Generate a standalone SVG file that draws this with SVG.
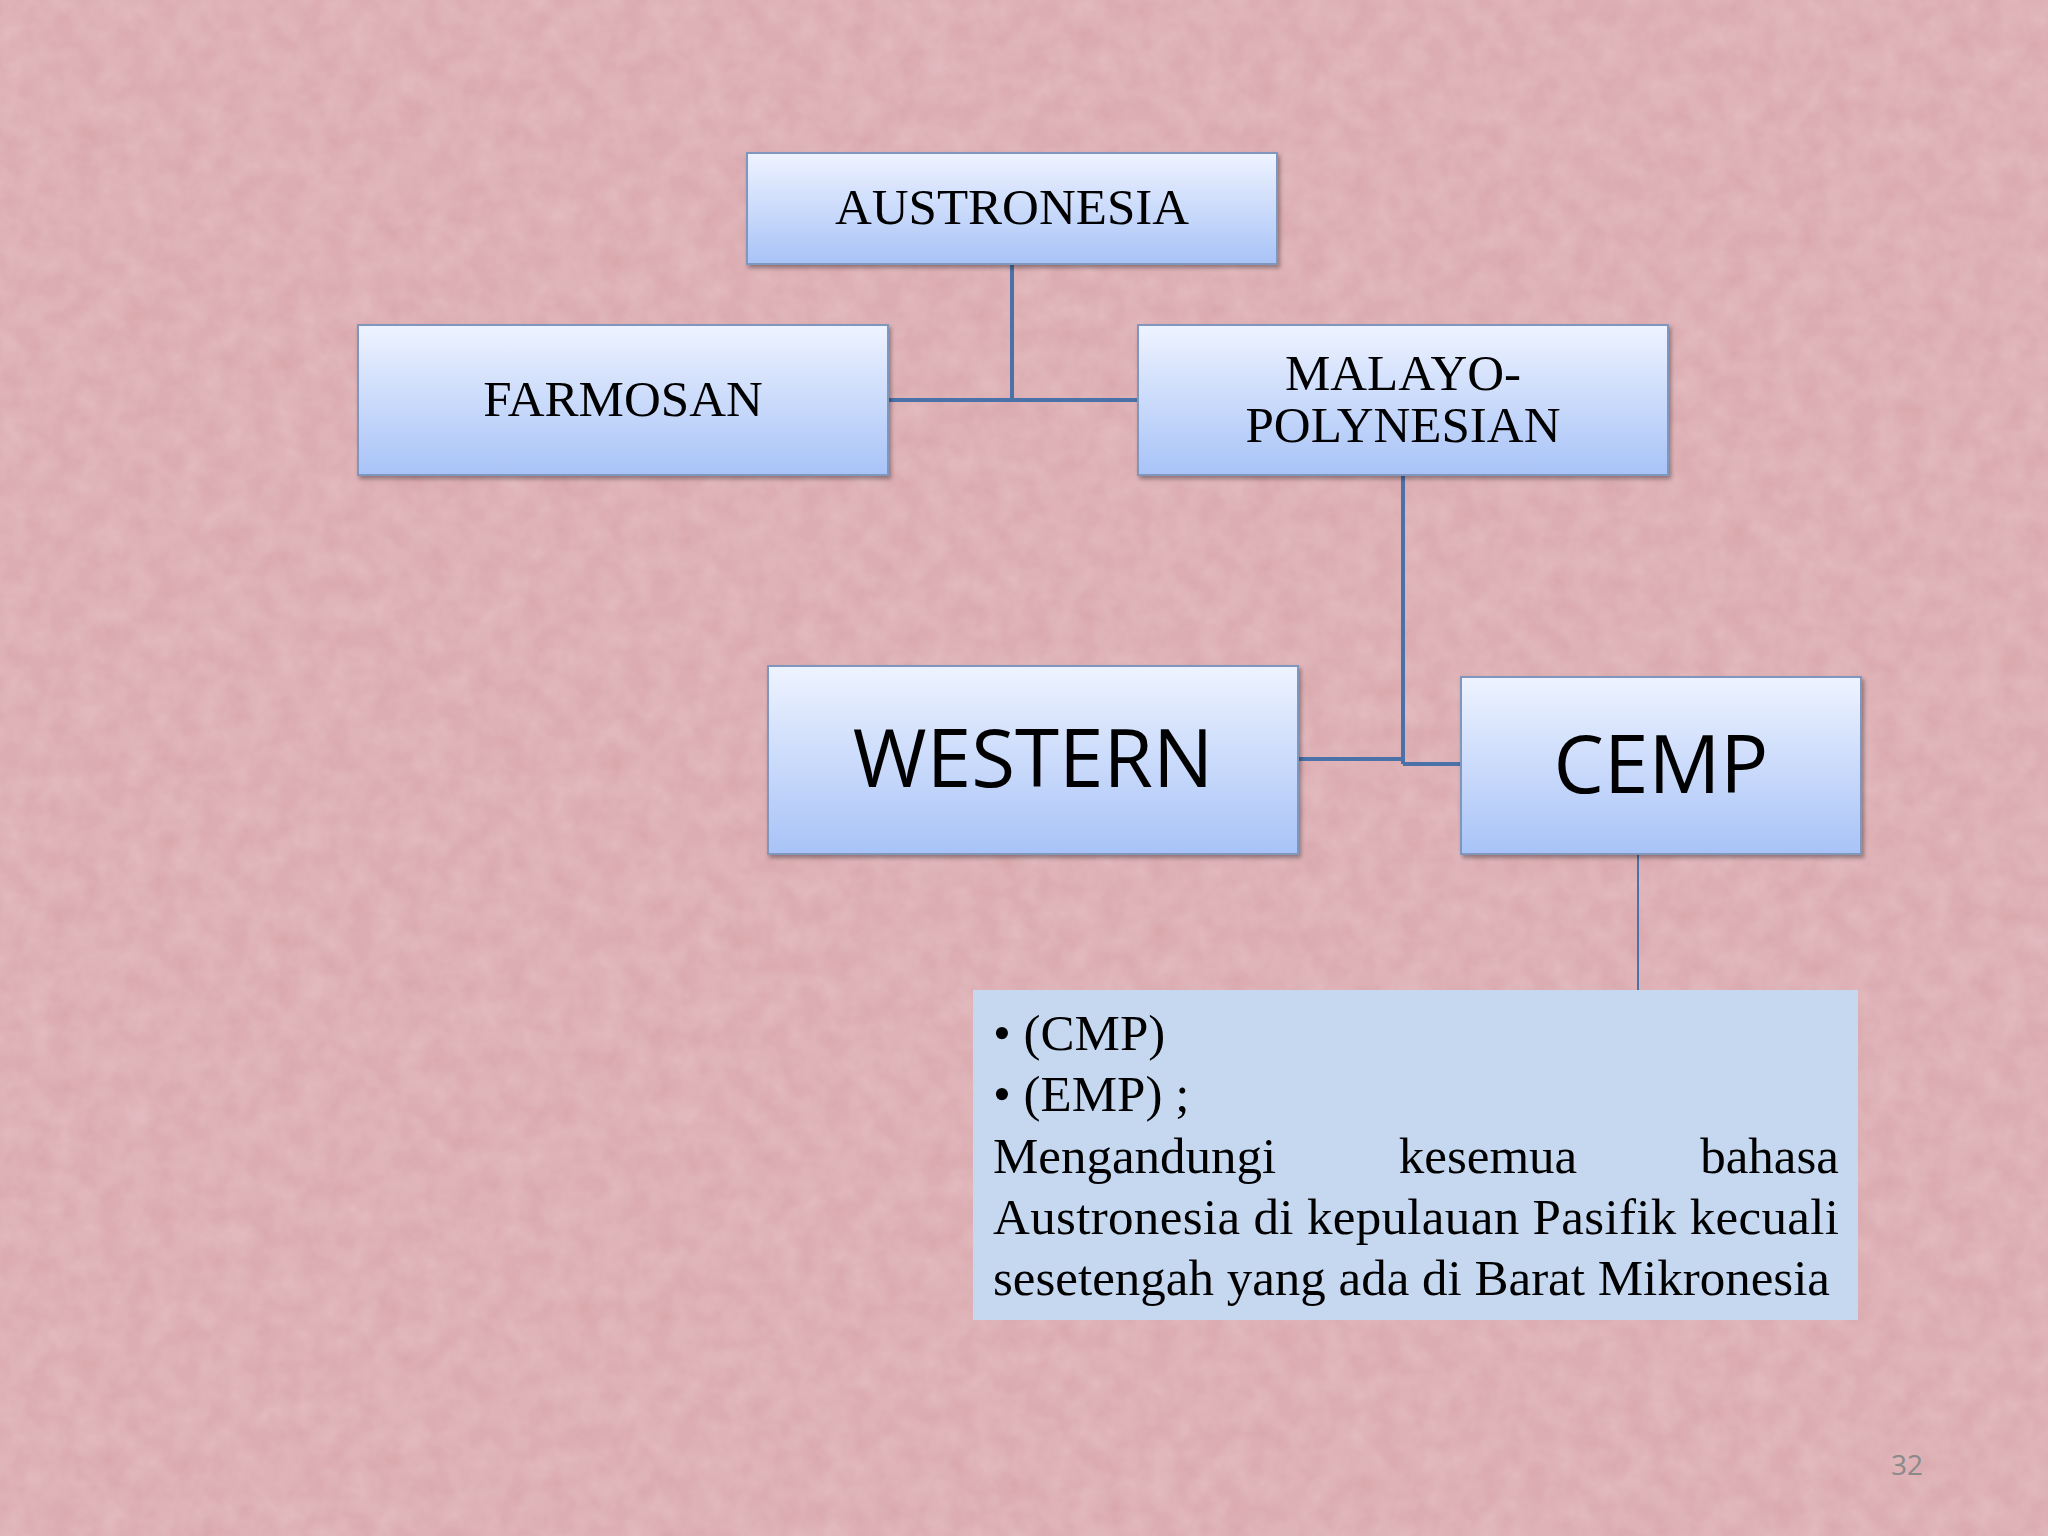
<svg xmlns="http://www.w3.org/2000/svg" width="2048" height="1536" viewBox="0 0 2048 1536">
<defs>
<linearGradient id="g" x1="0" y1="0" x2="0" y2="1"><stop offset="0" stop-color="#eef3ff"/><stop offset="1" stop-color="#a8c3f7"/></linearGradient>
<filter id="tex"><feTurbulence type="fractalNoise" baseFrequency="0.04" numOctaves="3" seed="3"/><feColorMatrix values="0 0 0 0 0.95  0 0 0 0 0.8  0 0 0 0 0.82  0 0 0 0.35 0"/><feComposite in2="SourceGraphic" operator="in"/></filter>
<filter id="sh"><feDropShadow dx="2" dy="3" stdDeviation="2" flood-opacity="0.35"/></filter>
</defs>
<style>
.box{fill:url(#g);stroke:#8196bd;stroke-width:2;filter:url(#sh)}
.t{font-family:"Liberation Serif",serif;font-size:51px;fill:#000;text-anchor:middle}
.b{font-family:"Open Sans","DejaVu Sans",sans-serif;font-size:80px;fill:#000;text-anchor:middle}
.c{fill:none;stroke:#4a72a8;stroke-width:4}
.p{font-family:"Liberation Serif",serif;font-size:51px;fill:#000}
</style>
<rect width="2048" height="1536" fill="#d8a6ab"/>
<rect width="2048" height="1536" fill="#d8a6ab" filter="url(#tex)"/>
<g id="connectors">
<path class="c" d="M1012 264V400M888 400H1138M1403 475V764M1298 759H1403M1403 764H1461"/>
<path d="M1638 854V1006" stroke="#4a72a8" stroke-width="2" fill="none"/>
</g>
<g id="austronesia"><rect class="box" x="747" y="153" width="530" height="111"/><text class="t" x="1012" y="224">AUSTRONESIA</text></g>
<g id="farmosan"><rect class="box" x="358" y="325" width="530" height="150"/><text class="t" x="623" y="416">FARMOSAN</text></g>
<g id="malayo"><rect class="box" x="1138" y="325" width="530" height="150"/><text class="t" x="1403" y="390">MALAYO-</text><text class="t" x="1403" y="442">POLYNESIAN</text></g>
<g id="western"><rect class="box" x="768" y="666" width="530" height="188"/><text class="b" x="1033" y="787">WESTERN</text></g>
<g id="cemp"><rect class="box" x="1461" y="677" width="400" height="177"/><text class="b" x="1661" y="793">CEMP</text></g>
<g id="note">
<rect x="973" y="990" width="885" height="330" fill="#c6d8f0"/>
<text class="p" x="993" y="1050">• (CMP)</text>
<text class="p" x="993" y="1111">• (EMP) ;</text>
<text class="p" x="993" y="1173">Mengandungi</text>
<text class="p" x="1488" y="1173" text-anchor="middle">kesemua</text>
<text class="p" x="1839" y="1173" text-anchor="end">bahasa</text>
<text class="p" x="993" y="1234" textLength="846" lengthAdjust="spacing">Austronesia di kepulauan Pasifik kecuali</text>
<text class="p" x="993" y="1295">sesetengah yang ada di Barat Mikronesia</text>
</g>
<text x="1907" y="1475" font-family="Open Sans,sans-serif" font-size="28" fill="#8a8a8a" text-anchor="middle">32</text>
</svg>
